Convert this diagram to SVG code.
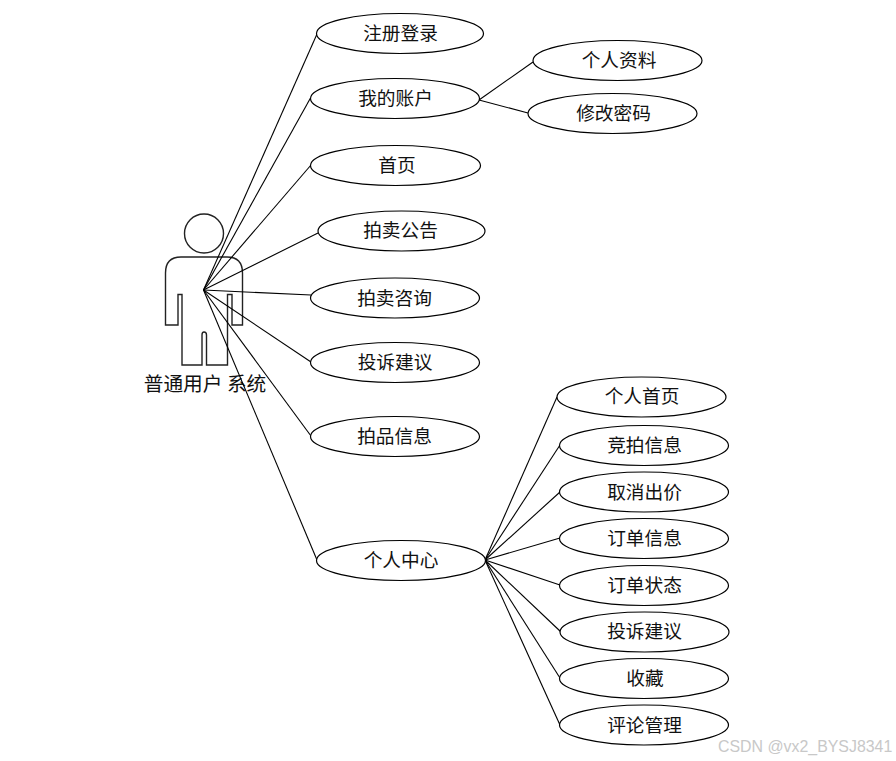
<svg xmlns="http://www.w3.org/2000/svg" width="896" height="761" viewBox="0 0 896 761">
<style>
.n{fill:#fff;stroke:#000;stroke-width:1.2}
.t{font-family:"Noto Sans CJK SC","Liberation Serif",serif;font-size:18.7px;font-weight:400;fill:#111;text-anchor:middle;dominant-baseline:central}
.c line{stroke:#000;stroke-width:1.1}
.p{fill:#fff;stroke:#222;stroke-width:1.4}
</style>
<rect width="896" height="761" fill="#fff"/>
<g id="actor">
<circle class="p" cx="204" cy="233.500" r="19.500"/>
<path class="p" d="M165.500 325V273Q165.500 257 181 257H227Q242.500 257 242.500 273V325H232V294.500H227.500V365H206.500V335Q206.500 332 204 332Q202 332 202 335V365H182V294.500H178V325Z"/>
<text class="t" x="205" y="382.500" style="font-size:19.700px">普通用户 系统</text>
</g>
<g id="connectors" class="c">
<line x1="203.500" y1="290" x2="317" y2="34"/>
<line x1="203.500" y1="290" x2="310.500" y2="98"/>
<line x1="203.500" y1="290" x2="311" y2="165"/>
<line x1="203.500" y1="290" x2="318" y2="233"/>
<line x1="203.500" y1="290" x2="311" y2="295"/>
<line x1="203.500" y1="290" x2="311" y2="362"/>
<line x1="203.500" y1="290" x2="311" y2="436"/>
<line x1="203.500" y1="290" x2="317" y2="560"/>
<line x1="479" y1="100" x2="533" y2="62"/>
<line x1="479" y1="100" x2="528" y2="113"/>
<line x1="485" y1="560" x2="557" y2="397"/>
<line x1="485" y1="560" x2="560" y2="445"/>
<line x1="485" y1="560" x2="560" y2="492"/>
<line x1="485" y1="560" x2="560" y2="538"/>
<line x1="485" y1="560" x2="560" y2="585"/>
<line x1="485" y1="560" x2="561" y2="632"/>
<line x1="485" y1="560" x2="560" y2="678"/>
<line x1="485" y1="560" x2="560" y2="725"/>
</g>
<g id="n1"><ellipse class="n" cx="400" cy="33.500" rx="83.500" ry="20"/><text class="t" x="400.500" y="31.500">注册登录</text></g>
<g id="n2"><ellipse class="n" cx="395" cy="98.500" rx="84.500" ry="20"/><text class="t" x="395.500" y="96.500">我的账户</text></g>
<g id="n3"><ellipse class="n" cx="395.500" cy="165.500" rx="85" ry="20"/><text class="t" x="397" y="163.500">首页</text></g>
<g id="n4"><ellipse class="n" cx="401.500" cy="231" rx="83.500" ry="20"/><text class="t" x="400.500" y="228.500">拍卖公告</text></g>
<g id="n5"><ellipse class="n" cx="395" cy="298" rx="84.500" ry="20"/><text class="t" x="394.500" y="296">拍卖咨询</text></g>
<g id="n6"><ellipse class="n" cx="395" cy="362.500" rx="84.500" ry="20"/><text class="t" x="395" y="360.500">投诉建议</text></g>
<g id="n7"><ellipse class="n" cx="395" cy="436.500" rx="84.500" ry="20"/><text class="t" x="394.500" y="434.500">拍品信息</text></g>
<g id="n8"><ellipse class="n" cx="401" cy="560.500" rx="84.500" ry="20"/><text class="t" x="401" y="558.500">个人中心</text></g>
<g id="n9"><ellipse class="n" cx="617.500" cy="60.500" rx="84.500" ry="20"/><text class="t" x="619" y="58">个人资料</text></g>
<g id="n10"><ellipse class="n" cx="612.500" cy="113.500" rx="84.500" ry="20"/><text class="t" x="613.500" y="111">修改密码</text></g>
<g id="n11"><ellipse class="n" cx="641.500" cy="397" rx="84.500" ry="20"/><text class="t" x="642" y="394.500">个人首页</text></g>
<g id="n12"><ellipse class="n" cx="644" cy="445.500" rx="84.500" ry="20"/><text class="t" x="644.500" y="443.500">竞拍信息</text></g>
<g id="n13"><ellipse class="n" cx="644" cy="492" rx="84.500" ry="20"/><text class="t" x="644.500" y="490">取消出价</text></g>
<g id="n14"><ellipse class="n" cx="644" cy="538.500" rx="84.500" ry="20"/><text class="t" x="644.500" y="536">订单信息</text></g>
<g id="n15"><ellipse class="n" cx="644" cy="585.500" rx="84.500" ry="20"/><text class="t" x="644.500" y="583.500">订单状态</text></g>
<g id="n16"><ellipse class="n" cx="644.500" cy="632" rx="84.500" ry="20"/><text class="t" x="644.500" y="629.500">投诉建议</text></g>
<g id="n17"><ellipse class="n" cx="644" cy="678.500" rx="84.500" ry="20"/><text class="t" x="645" y="676.500">收藏</text></g>
<g id="n18"><ellipse class="n" cx="644" cy="725" rx="84.500" ry="20"/><text class="t" x="644.500" y="723">评论管理</text></g>
<text x="718" y="752" font-family="Liberation Sans,sans-serif" font-size="15.900" fill="#c8c8c8">CSDN @vx2_BYSJ8341</text>
</svg>
